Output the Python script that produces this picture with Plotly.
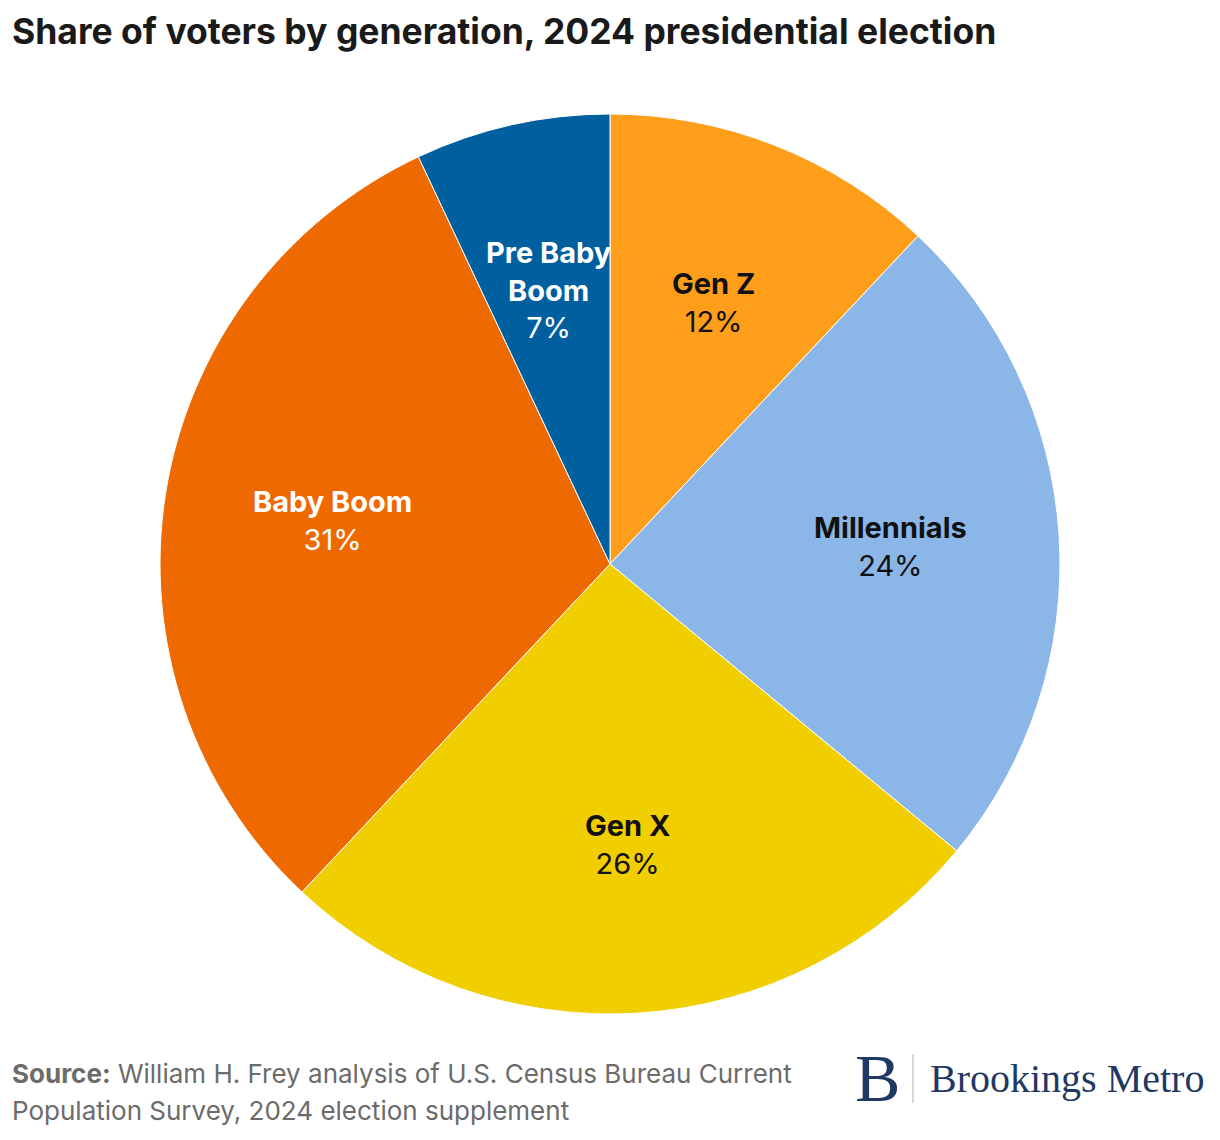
import math
import plotly.graph_objects as go

generations = ["Gen Z", "Millennials", "Gen X", "Baby Boom", "Pre Baby<br>Boom"]
shares = [12, 24, 26, 31, 7]
colors = ["#FF9E1B", "#8AB6E8", "#F0CE00", "#EE6A00", "#00609F"]
label_colors = ["#111111", "#111111", "#111111", "#FFFFFF", "#FFFFFF"]

W, H = 1220, 1140
cx, cy, R = 610, 564, 450  # pixel centre/radius

fig = go.Figure(go.Pie(
    values=shares,
    labels=generations,
    marker=dict(colors=colors, line=dict(color="white", width=1)),
    sort=False,
    direction="clockwise",
    rotation=0,
    textinfo="none",
    hoverinfo="label+percent",
    showlegend=False,
    domain=dict(x=[(cx - R) / W, (cx + R) / W], y=[1 - (cy + R) / H, 1 - (cy - R) / H]),
))

annotations = []
total = sum(shares)
cum = 0
for name, v, tc in zip(generations, shares, label_colors):
    mid = (cum + v / 2) / total * 2 * math.pi
    cum += v
    px = cx + 0.625 * R * math.sin(mid)
    py = cy - 0.625 * R * math.cos(mid)
    annotations.append(dict(
        x=px / W, y=1 - py / H, xref="paper", yref="paper",
        text=f"<b>{name}</b><br>{v}%", showarrow=False,
        font=dict(family="Inter", size=29, color=tc),
        align="center", xanchor="center", yanchor="middle",
    ))

annotations.append(dict(
    x=10 / W, y=1 - 32 / H, xref="paper", yref="paper", xanchor="left", yanchor="middle",
    text="<b>Share of voters by generation, 2024 presidential election</b>", showarrow=False,
    font=dict(family="Inter", size=35.5, color="#1a1a1a"),
))
annotations.append(dict(
    x=10 / W, y=1 - 1073 / H, xref="paper", yref="paper", xanchor="left", yanchor="middle",
    text="<b>Source:</b> William H. Frey analysis of U.S. Census Bureau Current",
    showarrow=False, align="left",
    font=dict(family="Inter", size=26, color="#6b6b6b"),
))
annotations.append(dict(
    x=10 / W, y=1 - 1110 / H, xref="paper", yref="paper", xanchor="left", yanchor="middle",
    text="Population Survey, 2024 election supplement",
    showarrow=False, align="left",
    font=dict(family="Inter", size=26, color="#6b6b6b"),
))
annotations.append(dict(
    x=853 / W, y=1 - 1078 / H, xref="paper", yref="paper", xanchor="left", yanchor="middle",
    text="B", showarrow=False,
    font=dict(family="Liberation Serif", size=68, color="#1F3864"),
))
annotations.append(dict(
    x=928 / W, y=1 - 1078 / H, xref="paper", yref="paper", xanchor="left", yanchor="middle",
    text="Brookings Metro", showarrow=False,
    font=dict(family="Liberation Serif", size=40, color="#1F3864"),
))

fig.update_layout(
    width=W, height=H,
    margin=dict(l=0, r=0, t=0, b=0),
    paper_bgcolor="white",
    annotations=annotations,
    shapes=[dict(type="line", xref="paper", yref="paper",
                 x0=913 / W, x1=913 / W, y0=1 - 1054 / H, y1=1 - 1103 / H,
                 line=dict(color="#C8CCD8", width=1.5))],
)

fig.write_html("out.html")
